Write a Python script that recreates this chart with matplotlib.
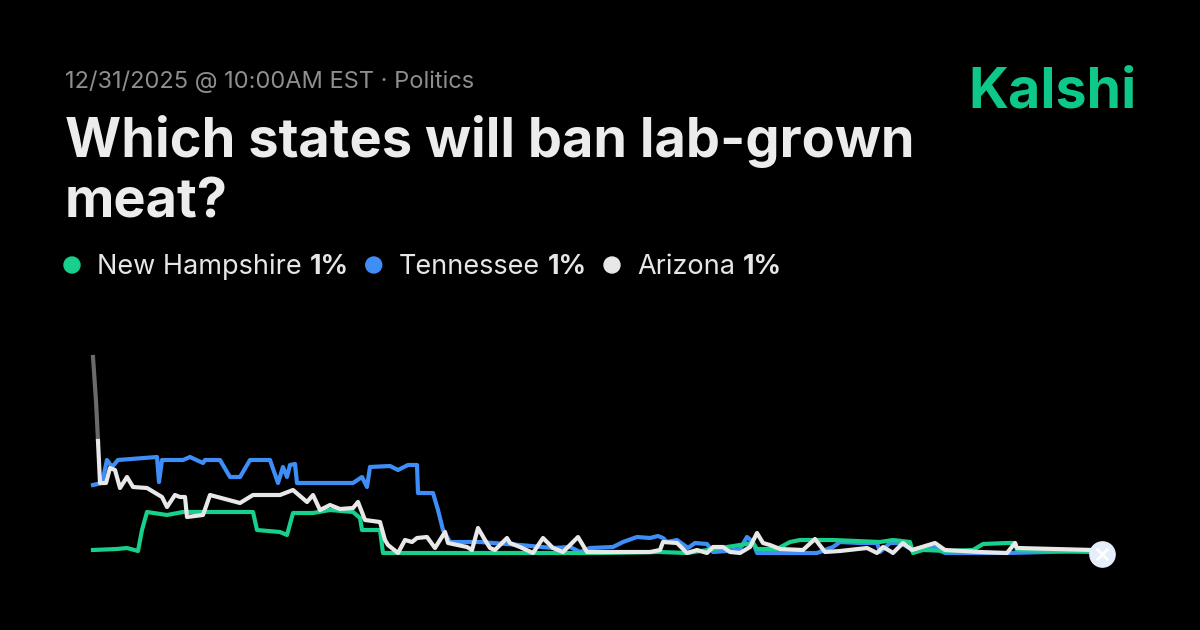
import matplotlib
matplotlib.use("Agg")
import matplotlib.pyplot as plt
from matplotlib.patches import Ellipse

# ---- data (time step, price in %) ----
nh_t = [0, 24, 34, 45, 49, 54, 74, 90, 160, 164, 187, 194, 200, 220, 237, 260, 267, 269, 287, 290,
        507, 567, 594, 634, 660, 664, 684, 697, 707, 740, 787, 800, 817, 820, 830, 854, 880, 890,
        914, 922, 924, 1000, 1009]
nh_v = [0.75, 1, 1.25, 0.5, 5.75, 10.25, 9.5, 10.25, 10.25, 5.75, 5.25, 4.5, 10, 10, 10.75, 10.25, 8.75, 5.75, 5.75, 0,
        0, 0.25, 0, 1.5, 2.5, 1, 1, 2.75, 3.25, 3.25, 2.75, 3.25, 2.75, 0, 0.75, 0.5, 0.75, 2.25,
        2.5, 2.5, 0.75, 0.25, 0.5]

tn_t = [0, 9, 14, 19, 25, 64, 66, 69, 90, 97, 110, 112, 127, 137, 147, 157, 177, 185, 190, 194,
        197, 202, 204, 237, 260, 269, 274, 277, 297, 305, 315, 324, 325, 340, 345, 350, 357, 370, 387, 400,
        427, 460, 477, 487, 497, 520, 530, 544, 557, 565, 570, 574, 584, 595, 602, 614, 620, 634, 647, 654,
        660, 664, 707, 724, 740, 747, 767, 784, 787, 797, 807, 820, 840, 852, 914, 954, 994, 1009]
tn_v = [17, 17.5, 23.25, 21.5, 23.25, 24, 17.75, 23.25, 23.25, 24, 22.5, 23.25, 23.25, 19, 19, 23.25, 23.25, 17.5, 21.5, 19,
        22, 22.25, 17.5, 17.5, 17.5, 19, 16.5, 21.5, 21.75, 20.75, 22, 22, 15, 15, 10.75, 5.75, 2.75, 2.75, 2.75, 2.5,
        2, 1.25, 1.5, 0.25, 1.25, 1.5, 2.75, 4, 3.75, 4.25, 3.75, 2.75, 3.25, 1.25, 2.5, 2.25, 0.25, 0.5, 1, 4,
        2.75, 0, 0, 0, 1.5, 2.75, 2.5, 2.5, 0.25, 2.5, 2.5, 0.75, 1.5, 0, 0, 0.25, 0.5, 0.5]

az_t = [0, 3, 5, 7, 13, 17, 22, 27, 34, 40, 54, 69, 74, 82, 87, 92, 94, 110, 117, 147,
        160, 187, 200, 214, 220, 227, 237, 247, 260, 265, 272, 287, 292, 295, 305, 312, 319, 324, 334, 342,
        352, 355, 374, 379, 385, 392, 397, 402, 414, 417, 427, 440, 450, 460, 470, 485, 494, 507, 534, 557,
        567, 570, 584, 594, 604, 614, 620, 630, 637, 647, 657, 664, 670, 677, 687, 710, 722, 732, 747, 774,
        784, 790, 797, 800, 810, 819, 842, 852, 887, 914, 922, 924, 1000, 1009]
az_v = [49, 38, 28, 17.5, 17.5, 21.25, 20.75, 16.25, 19, 16.5, 16.25, 14, 11.5, 14.5, 14, 14, 9, 9.5, 14.5, 12.5,
        14.5, 14.5, 15.75, 12.75, 14.5, 10.75, 12, 11, 11.25, 12.75, 8.25, 7.75, 3.25, 2, 0, 3.25, 2.75, 3.75, 4, 1.25,
        5.25, 2.5, 1.5, 0.75, 6.25, 3.25, 1.25, 0.75, 3.75, 2.5, 1.5, 0, 3.75, 1.25, 0.25, 4, 0.25, 0.25, 0.25, 0.25,
        0.75, 2.75, 2.5, 0, 0.75, 0, 1.5, 1.5, 0.25, 0, 1.5, 5, 2.5, 2, 1, 0.75, 3.5, 0.25, 0.5, 1.25,
        0, 1.5, 0.5, 0, 2.5, 0.75, 2.5, 0.75, 0.25, 0, 2.5, 1.25, 0.75, 0.75]

names = ["New Hampshire", "Tennessee", "Arizona"]
last_pct = ["1%", "1%", "1%"]
colors = ["#16d08c", "#3f8ef7", "#e8e8e8"]

W, H = 1200, 630
BG = "#000000"

fig = plt.figure(figsize=(W / 100, H / 100), dpi=100, facecolor=BG)


def fx(px):
    return px / W


def fy(py):
    return 1 - py / H


# ---- header ----
fig.text(fx(65), fy(88), "12/31/2025 @ 10:00AM EST \u00b7 Politics", color="#8e8e8e",
         fontsize=17, family="Inter", va="baseline")
fig.text(fx(65), fy(157), "Which states will ban lab-grown", color="#ececec",
         fontsize=39, family="Inter", weight="bold", va="baseline")
fig.text(fx(65), fy(218), "meat?", color="#ececec",
         fontsize=39, family="Inter", weight="bold", va="baseline")
fig.text(fx(1137), fy(108), "Kalshi", color="#0ec88a", fontsize=40, family="Inter",
         weight="bold", va="baseline", ha="right")

# ---- legend built left to right ----
renderer = fig.canvas.get_renderer()
x = 72
for name, pct, col in zip(names, last_pct, colors):
    fig.add_artist(Ellipse((fx(x), fy(265)), 16 / W, 16 / H, color=col,
                           transform=fig.transFigure))
    t1 = fig.text(fx(x + 25), fy(274), name, color="#e6e6e6", fontsize=19.5,
                  family="Inter", va="baseline")
    w1 = t1.get_window_extent(renderer).width
    t2 = fig.text(fx(x + 25 + w1 + 8), fy(274), pct, color="#e6e6e6", fontsize=19.5,
                  family="Inter", weight="bold", va="baseline")
    w2 = t2.get_window_extent(renderer).width
    x = x + 25 + w1 + 8 + w2 + 25

# ---- chart ----
ax = fig.add_axes([fx(93), fy(553), (1102 - 93) / W, (553 - 357) / H])
ax.set_facecolor(BG)
ax.set_xlim(0, 1009)
ax.set_ylim(0, 49)
ax.axis("off")

lw = 3
ax.plot(tn_t, tn_v, color=colors[1], lw=lw, solid_joinstyle="round", clip_on=False)
ax.plot(nh_t, nh_v, color=colors[0], lw=lw, solid_joinstyle="round", clip_on=False)
# Arizona: faded start, then solid
ax.plot(az_t[:3], az_v[:3], color="#6a6a6a", lw=lw, solid_joinstyle="round", clip_on=False)
ax.plot(az_t[2:], az_v[2:], color=colors[2], lw=lw, solid_joinstyle="round", clip_on=False)

# end marker
ax.scatter([az_t[-1]], [az_v[-1] - 1], s=330, color="#e6eefc", zorder=5, clip_on=False)
ax.scatter([az_t[-1]], [az_v[-1] - 1], s=70, marker="x", color="white", linewidths=2,
           zorder=6, clip_on=False)

fig.savefig("out.png", dpi=100, facecolor=BG)
